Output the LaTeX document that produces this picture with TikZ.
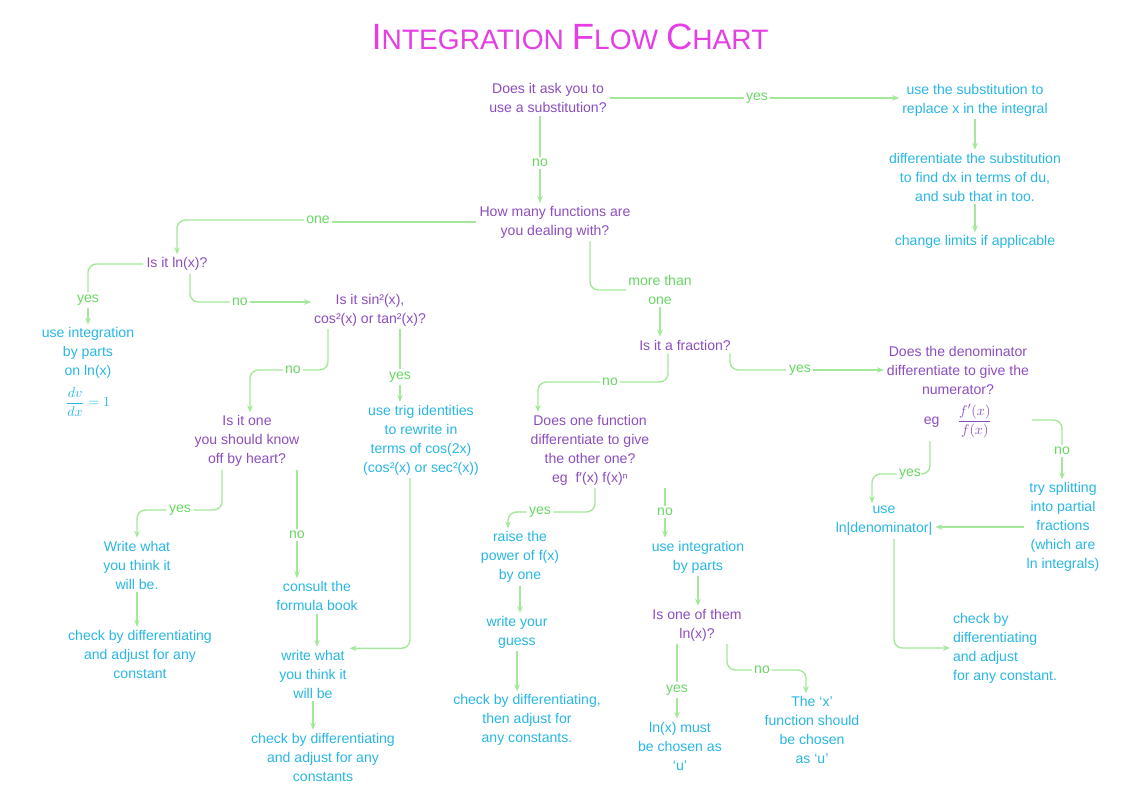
\documentclass[tikz,border=0pt]{standalone}
\usepackage{fontspec}
\setmainfont{Liberation Sans}
\usetikzlibrary{arrows.meta,calc}
\definecolor{purp}{RGB}{140,78,190}
\definecolor{cyn}{RGB}{40,182,228}
\definecolor{lgreen}{RGB}{165,232,155}
\definecolor{dgreen}{RGB}{105,214,100}
\definecolor{magen}{RGB}{228,62,228}
\newcommand{\hfnt}{\fontsize{10}{13.5}\selectfont}
\tikzset{
  q/.style={text=purp, align=center, font=\hfnt, inner sep=2pt},
  ans/.style={text=cyn, align=center, font=\hfnt, inner sep=2pt},
  lb/.style={text=dgreen, align=center, font=\hfnt, inner sep=1.5pt},
  ln/.style={draw=lgreen, line width=1pt, rounded corners=6pt},
  arr/.style={ln, -{Stealth[length=5pt,width=4pt]}},
}
\begin{document}
\begin{tikzpicture}[x=0.025cm,y=-0.025cm]
\useasboundingbox (0,0) rectangle (1140,807);
\node[text=magen] (title) at (570,37) {\fontsize{26}{26}\selectfont I\fontsize{20}{20}\selectfont NTEGRATION \fontsize{26}{26}\selectfont F\fontsize{20}{20}\selectfont LOW \fontsize{26}{26}\selectfont C\fontsize{20}{20}\selectfont HART};
% top branch
\node[q] (q1) at (548,98) {Does it ask you to\\use a substitution?};
\node[lb] (yes1) at (757,98) {yes};
\node[ans] (s1) at (975,100) {use the substitution to\\replace x in the integral};
\node[ans] (s2) at (975,177) {differentiate the substitution\\to find dx in terms of du,\\and sub that in too.};
\node[ans] (s3) at (975,242) {change limits if applicable};
\node[lb] (no1) at (540,163) {no};
\node[q] (q2) at (555,222) {How many functions are\\you dealing with?};
% one function
\node[lb] (one) at (318,220) {one};
\node[q] (q3) at (177,264) {Is it ln(x)?};
\node[lb] (yes2) at (88,300) {yes};
\node[ans] (a1) at (88,372) {use integration\\by parts\\on ln(x)\\[5pt]$\displaystyle\frac{dv}{dx}=1$};
\node[lb] (no2) at (240,302) {no};
\node[q] (q4) at (370,310) {Is it sin²(x),\\cos²(x) or tan²(x)?};
\node[lb] (no3) at (293,370) {no};
\node[lb] (yes3) at (400,377) {yes};
\node[q] (q5) at (247,441) {Is it one\\you should know\\off by heart?};
\node[ans] (d1) at (421,440) {use trig identities\\to rewrite in\\terms of cos(2x)\\(cos²(x) or sec²(x))};
\node[lb] (yes4) at (180,510) {yes};
\node[ans] (b1) at (137,565) {Write what\\you think it\\will be.};
\node[ans] (b2) at (140,654) {check by differentiating\\and adjust for any\\constant};
\node[lb] (no4) at (297,535) {no};
\node[ans] (c1) at (317,596) {consult the\\formula book};
\node[ans] (c2) at (313,674) {write what\\you think it\\will be};
\node[ans] (c3) at (323,757) {check by differentiating\\and adjust for any\\constants};
% more than one
\node[lb] (more) at (660,290) {more than\\one};
\node[q] (q6) at (685,345) {Is it a fraction?};
\node[lb] (no5) at (610,382) {no};
\node[lb] (yes5) at (800,370) {yes};
\node[q] (q7) at (590,450) {Does one function\\differentiate to give\\the other one?\\eg \ f′(x) f(x)ⁿ};
\node[q] (q9) at (958,392) {Does the denominator\\differentiate to give the\\numerator?\\[6pt]eg \quad $\displaystyle\frac{f'(x)}{f(x)}$};
\node[lb] (yes6) at (540,512) {yes};
\node[lb] (no6) at (665,512) {no};
\node[ans] (e1) at (520,557) {raise the\\power of f(x)\\by one};
\node[ans] (e2) at (517,632) {write your\\guess};
\node[ans] (e3) at (527,720) {check by differentiating,\\then adjust for\\any constants.};
\node[ans] (f1) at (698,557) {use integration\\by parts};
\node[q] (q8) at (697,625) {Is one of them\\ln(x)?};
\node[lb] (yes7) at (677,690) {yes};
\node[lb] (no7) at (762,670) {no};
\node[ans] (g1) at (680,746) {ln(x) must\\be chosen as\\`u'};
\node[ans] (h1) at (812,730) {The `x'\\function should\\be chosen\\as `u'};
\node[lb] (yes8) at (910,474) {yes};
\node[lb] (no8) at (1062,451) {no};
\node[ans] (j1) at (884,521) {use\\ln|denominator|};
\node[ans] (k1) at (1063,527) {try splitting\\into partial\\fractions\\(which are\\ln integrals)};
\node[ans,anchor=west,align=left] (m1) at (950,648) {check by\\differentiating\\and adjust\\for any constant.};
% connectors
\draw[ln] (q1.east) -- (q1.east -| yes1.west);
\draw[arr] (yes1.east) -- (yes1.east -| s1.west);
\draw[arr] (s1.south) -- (s2.north);
\draw[arr] (s2.south) -- (s3.north);
\draw[ln] (no1.north |- q1.south) -- (no1.north);
\draw[arr] (no1.south) -- (no1.south |- q2.north);
\draw[ln] (q2.west) -- (q2.west -| one.east);
\draw[arr] (one.west) -| (q3.north);
\draw[ln] (q3.west) -| (yes2.north);
\draw[arr] (yes2.south) -- (yes2.south |- a1.north);
\draw[ln] ($(q3.south)+(13,0)$) |- (no2.west);
\draw[arr] (no2.east) -- (no2.east -| q4.west);
\draw[ln] ($(q4.south)+(-42,0)$) |- (no3.east);
\draw[arr] (no3.west) -| ($(q5.north)+(3,0)$);
\draw[ln] (yes3.north |- q4.south) -- (yes3.north);
\draw[arr] (yes3.south) -- (yes3.south |- d1.north);
\draw[ln] ($(q5.south)+(-25,0)$) |- (yes4.east);
\draw[arr] (yes4.west) -| (b1.north);
\draw[arr] (b1.south) -- (b1.south |- b2.north);
\draw[ln] (no4.north |- q5.south) -- (no4.north);
\draw[arr] (no4.south) -- (no4.south |- c1.north);
\draw[arr] (c1.south) -- (c1.south |- c2.north);
\draw[arr] (c2.south) -- (c2.south |- c3.north);
\draw[arr] ($(d1.south)+(-11,0)$) |- (c2.35);
\draw[ln] ($(q2.south)+(35,0)$) |- (more.west);
\draw[arr] (more.south) -- (more.south |- q6.north);
\draw[ln] ($(q6.south)+(-17,0)$) |- (no5.east);
\draw[arr] (no5.west) -| ($(q7.north)+(-52,0)$);
\draw[ln] ($(q6.south)+(45,0)$) |- (yes5.west);
\draw[arr] (yes5.east) -- (yes5.east -| q9.west);
\draw[ln] ($(q7.south)+(5,0)$) |- (yes6.east);
\draw[arr] (yes6.west) -| ($(e1.north)+(-12,0)$);
\draw[ln] (no6.north |- q7.south) -- (no6.north);
\draw[arr] (no6.south) -- (no6.south |- f1.north);
\draw[arr] (e1.south) -- (e1.south |- e2.north);
\draw[arr] (e2.south) -- (e2.south |- e3.north);
\draw[arr] (f1.south) -- (f1.south |- q8.north);
\draw[ln] (yes7.north |- q8.south) -- (yes7.north);
\draw[arr] (yes7.south) -- (yes7.south |- g1.north);
\draw[ln] ($(q8.south)+(30,0)$) |- (no7.west);
\draw[arr] (no7.east) -| ($(h1.north)+(-6,0)$);
\draw[ln] ($(q9.south)+(-28,0)$) |- (yes8.east);
\draw[arr] (yes8.west) -| ($(j1.north)+(-12,0)$);
\draw[ln] ($(q9.east)+(0,28)$) -| (no8.north);
\draw[arr] (no8.south) -- (no8.south |- k1.north);
\draw[arr] (k1.west) -- (k1.west -| j1.east);
\draw[arr] ($(j1.south)+(10,0)$) |- (m1.west);
\end{tikzpicture}
\end{document}
